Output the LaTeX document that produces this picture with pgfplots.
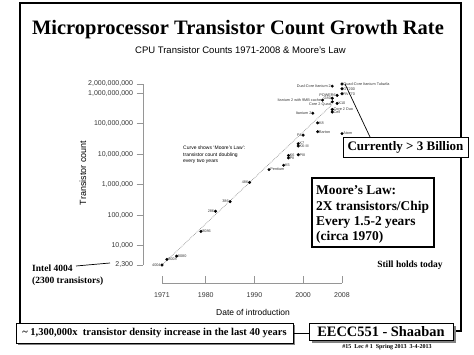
\documentclass[border=0pt]{standalone}
\usepackage{pgfplots}
\pgfplotsset{compat=1.18}
\usepackage{fontspec}
\setmainfont{Liberation Serif}
\setsansfont{Liberation Sans}
\definecolor{axgray}{RGB}{150,150,150}
\definecolor{lblgray}{RGB}{55,55,55}
\definecolor{shadowgray}{RGB}{130,130,130}
\tikzset{lbl/.style={font=\sffamily\fontsize{3.8}{4}\selectfont, text=lblgray, inner sep=1.2pt}}
\begin{document}
\begin{tikzpicture}
\useasboundingbox (0,0) rectangle (474pt,355pt);
\fill[white] (0,0) rectangle (474pt,355pt);
\begin{axis}[
  at={(162pt,90pt)}, anchor=south west,
  scale only axis, width=180pt, height=181pt,
  ymode=log, xmin=1971, xmax=2008, ymin=2300, ymax=2e9,
  clip=false,
  axis x line=bottom, axis y line=left,
  axis x line shift=18pt, axis y line shift=19pt,
  axis line style={axgray, line width=0.8pt, -},
  xtick={1971,1980,1990,2000,2008},
  xticklabels={1971,1980,1990,2000,2008},
  ytick={2300,1e4,1e5,1e6,1e7,1e8,1e9,2e9},
  yticklabels={{2,300},{10,000},{100,000},{1,000,000},{10,000,000},{100,000,000},{1,000,000,000},{2,000,000,000}},
  yminorticks=false,
  xtick align=inside, ytick align=outside,
  major tick length=6.5pt,
  tick style={axgray, line width=0.8pt},
  yticklabel style={font=\sffamily\fontsize{7}{8}\selectfont, text=lblgray},
  xticklabel style={font=\sffamily\fontsize{7}{8}\selectfont, text=lblgray, yshift=-6pt},
]
\addplot[axgray, densely dotted, line width=0.7pt] coordinates {(1971,2300) (2006,426000000)};
\addplot[only marks, mark=*, mark size=1.3pt, black,
  nodes near coords, point meta=explicit symbolic,
  every node near coord/.style={anchor=west, lbl}]
  coordinates {
  (1972,3500) [8008]
  (1974,4500) [8080]
  (1979,29000) [8086]
  (1993,3100000) [Pentium]
  (1996,4300000) [K5]
  (1997,7500000) [PII]
  (1997,9000000) [K6]
  (1999,9500000) [PIII]
  (1999,22000000) [K7]
  (1999,18500000) [K6-III]
  (2003,105900000) [K8]
  (2003,54300000) [Barton]
  (2008,47000000) [Atom]
  (2007,463000000) [K10]
  (2006,291000000) [Core 2 Duo]
  (2006,241000000) [Cell]
  (2008,2000000000) [Quad-Core Itanium Tukwila]
  (2008,1400000000) [GT200]
  (2008,956000000) [RV770]
  };
\addplot[only marks, mark=*, mark size=1.3pt, black,
  nodes near coords, point meta=explicit symbolic,
  every node near coord/.style={anchor=east, lbl}]
  coordinates {
  (1971,2300) [4004]
  (1982,134000) [286]
  (1985,275000) [386]
  (1989,1180000) [486]
  (2000,42000000) [P4]
  (2002,220000000) [Itanium 2]
  (2004,592000000) [Itanium 2 with 9MB cache]
  (2006,681000000) [G80]
  (2007,850000000) [POWER6]
  (2006,1700000000) [Dual-Core Itanium 2]
  };
\addplot[only marks, mark=*, mark size=1.3pt, black,
  nodes near coords, point meta=explicit symbolic,
  every node near coord/.style={anchor=north east, lbl, yshift=0.5pt}]
  coordinates {
  (2006,520000000) [Core 2 Quad]
  };
\end{axis}
\begin{scope}[x=1pt,y=-1pt,shift={(0pt,355pt)}]
  % frame
  \draw[line width=1.2pt] (20,323) -- (20,3) -- (461,3) -- (461,331) -- (453,331);
  % title
  \node[anchor=base, font=\bfseries\fontsize{20.5}{24}\selectfont, inner sep=0] at (238,35) {Microprocessor Transistor Count Growth Rate};
  \node[anchor=base, font=\sffamily\fontsize{9.5}{11}\selectfont, inner sep=0] at (240.5,54) {CPU Transistor Counts 1971-2008 \& Moore's Law};
  % axis labels
  \node[rotate=90, font=\sffamily\fontsize{9}{10}\selectfont, inner sep=0] at (83,173) {Transistor count};
  \node[font=\sffamily\fontsize{8.5}{10}\selectfont, inner sep=0] at (253,312) {Date of introduction};
  % note
  \node[anchor=north west, align=left, font=\sffamily\fontsize{5}{6.5}\selectfont, inner sep=0] at (183,146) {Curve shows ‘Moore’s Law’:\\transistor count doubling\\every two years};
  % Currently box
  \draw[line width=0.7pt] (370,137) -- (345,84);
  \draw[fill=white, line width=0.8pt] (343,137) rectangle (468,157);
  \node[font=\bfseries\fontsize{13}{15}\selectfont, inner sep=0] at (405.5,147) {Currently > 3 Billion};
  % Moore's law box
  \draw[line width=1.5pt, fill=white] (312,178) rectangle (434,247);
  \node[anchor=base west, font=\bfseries\fontsize{13.4}{16}\selectfont, inner sep=0] at (316,194.5) {Moore's Law:};
  \node[anchor=base west, font=\bfseries\fontsize{13.4}{16}\selectfont, inner sep=0] at (316,210.5) {2X transistors/Chip};
  \node[anchor=base west, font=\bfseries\fontsize{13.4}{16}\selectfont, inner sep=0] at (316,226) {Every 1.5-2 years};
  \node[anchor=base west, font=\bfseries\fontsize{13.4}{16}\selectfont, inner sep=0] at (316,241) {(circa 1970)};
  \node[font=\bfseries\fontsize{9.5}{11}\selectfont, inner sep=0] at (410,265) {Still holds today};
  % Intel 4004
  \draw[line width=0.7pt] (76,266) -- (110,263);
  \node[anchor=base west, font=\bfseries\fontsize{9.5}{11}\selectfont, inner sep=0] at (32,272) {Intel 4004};
  \node[anchor=base west, font=\bfseries\fontsize{9.5}{11}\selectfont, inner sep=0] at (32,284) {(2300 transistors)};
  % bottom boxes
  \fill[shadowgray] (18,325) rectangle (295,345);
  \draw[fill=white, line width=0.8pt] (16,323) rectangle (293,343);
  \node[font=\bfseries\fontsize{10.5}{12}\selectfont, inner sep=0] at (154.5,333) {\char`\~{} 1,300,000x\ \ transistor density increase in the last 40 years};
  \draw[line width=0.8pt] (293,333) -- (309,333);
  \fill[shadowgray] (312,326) rectangle (456,343);
  \draw[fill=white, line width=0.8pt] (309,323) rectangle (453,340);
  \node[font=\bfseries\fontsize{14.4}{16}\selectfont, inner sep=0] at (381,331.5) {EECC551 - Shaaban};
  \node[font=\bfseries\fontsize{6}{7}\selectfont, inner sep=0] at (387,347) {\#15\ \ Lec \# 1\ \ Spring 2013\ \ 3-4-2013};
\end{scope}
\end{tikzpicture}
\end{document}
